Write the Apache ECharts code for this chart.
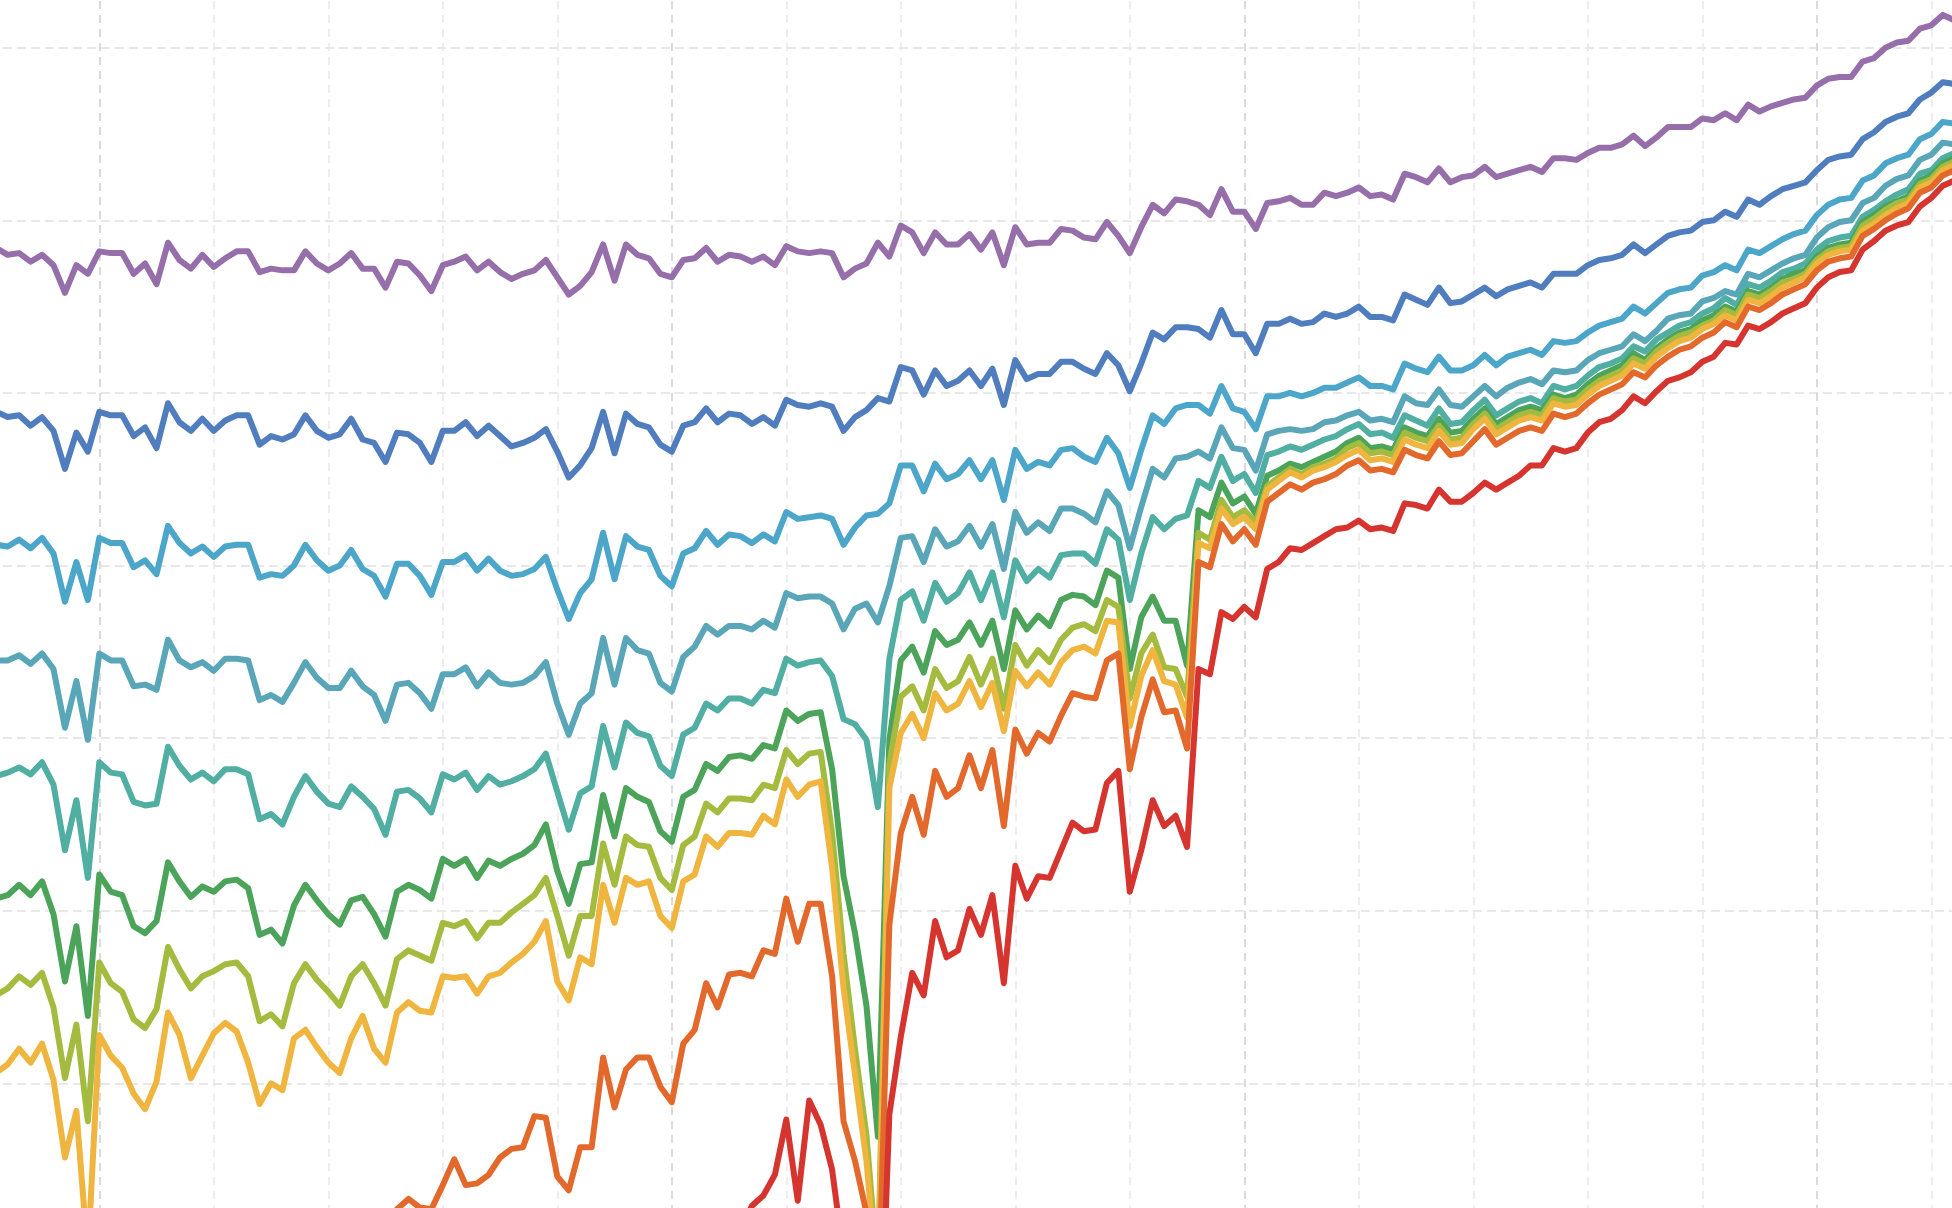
<!DOCTYPE html>
<html><head><meta charset="utf-8">
<script src="https://cdn.jsdelivr.net/npm/echarts@6/dist/echarts.min.js"></script>
<style>html,body{margin:0;padding:0;background:#fff;overflow:hidden}#c{width:1952px;height:1208px}</style>
</head><body><div id="c"></div><script>
// x value of the first observation (observations are consecutive)
const xStart = -9;

const sPurple = [
4.84,4.80,4.81,4.76,4.80,4.74,4.58,4.74,4.69,4.82,
4.81,4.81,4.69,4.75,4.63,4.87,4.77,4.72,4.80,4.73,
4.78,4.82,4.82,4.70,4.72,4.71,4.71,4.82,4.75,4.71,
4.75,4.81,4.72,4.72,4.61,4.76,4.75,4.68,4.59,4.74,
4.76,4.79,4.71,4.76,4.70,4.66,4.69,4.71,4.77,4.67,
4.57,4.62,4.70,4.86,4.65,4.86,4.80,4.78,4.69,4.67,
4.77,4.78,4.84,4.76,4.80,4.79,4.76,4.79,4.74,4.85,
4.82,4.81,4.82,4.81,4.67,4.72,4.75,4.87,4.79,4.97,
4.93,4.81,4.93,4.86,4.86,4.92,4.83,4.93,4.74,4.96,
4.86,4.87,4.87,4.95,4.94,4.90,4.89,4.99,4.91,4.81,
4.96,5.09,5.04,5.12,5.11,5.09,5.03,5.18,5.05,5.05,
4.95,5.10,5.11,5.13,5.09,5.09,5.16,5.14,5.16,5.19,
5.14,5.15,5.12,5.27,5.25,5.22,5.30,5.22,5.25,5.26,
5.31,5.25,5.27,5.29,5.31,5.28,5.36,5.36,5.35,5.39,
5.42,5.42,5.44,5.49,5.43,5.48,5.54,5.54,5.54,5.59,
5.58,5.62,5.58,5.67,5.63,5.66,5.68,5.70,5.71,5.78,
5.82,5.83,5.83,5.92,5.94,6.00,6.03,6.04,6.11,6.13,
6.19,6.16];

const sDarkBlue = [
3.89,3.86,3.87,3.81,3.86,3.78,3.56,3.77,3.66,3.89,
3.87,3.87,3.75,3.80,3.68,3.94,3.83,3.78,3.85,3.78,
3.84,3.87,3.87,3.70,3.75,3.73,3.76,3.87,3.78,3.74,
3.76,3.85,3.73,3.71,3.60,3.77,3.76,3.71,3.60,3.78,
3.78,3.83,3.75,3.81,3.75,3.69,3.71,3.74,3.79,3.66,
3.51,3.58,3.68,3.89,3.65,3.88,3.82,3.80,3.70,3.66,
3.81,3.83,3.91,3.83,3.88,3.87,3.82,3.86,3.81,3.96,
3.93,3.92,3.94,3.92,3.78,3.86,3.90,3.97,3.95,4.15,
4.13,3.99,4.13,4.04,4.07,4.13,4.04,4.14,3.93,4.19,
4.08,4.11,4.11,4.18,4.18,4.14,4.11,4.23,4.16,4.01,
4.17,4.35,4.31,4.38,4.38,4.37,4.32,4.48,4.34,4.34,
4.23,4.40,4.40,4.43,4.40,4.41,4.46,4.44,4.46,4.50,
4.44,4.44,4.42,4.57,4.54,4.51,4.61,4.52,4.53,4.57,
4.61,4.56,4.60,4.62,4.64,4.61,4.69,4.69,4.69,4.74,
4.77,4.78,4.80,4.86,4.81,4.86,4.91,4.93,4.94,4.99,
5.00,5.05,5.02,5.12,5.09,5.14,5.18,5.20,5.22,5.29,
5.35,5.37,5.38,5.47,5.51,5.57,5.60,5.62,5.70,5.74,
5.80,5.79];

const sLightBlue = [
3.12,3.11,3.15,3.10,3.16,3.07,2.79,3.02,2.80,3.16,
3.13,3.13,2.99,3.03,2.95,3.23,3.13,3.07,3.11,3.05,
3.11,3.12,3.12,2.93,2.95,2.94,3.00,3.12,3.03,2.97,
3.00,3.09,2.98,2.94,2.82,3.01,3.01,2.94,2.83,3.02,
3.02,3.06,2.97,3.04,2.97,2.94,2.95,2.98,3.05,2.86,
2.69,2.84,2.92,3.19,2.92,3.17,3.11,3.09,2.94,2.88,
3.07,3.10,3.20,3.12,3.18,3.17,3.13,3.18,3.14,3.31,
3.27,3.28,3.29,3.27,3.12,3.22,3.29,3.30,3.36,3.58,
3.58,3.43,3.59,3.50,3.53,3.61,3.50,3.61,3.38,3.67,
3.56,3.60,3.58,3.67,3.68,3.63,3.60,3.74,3.65,3.45,
3.67,3.87,3.82,3.91,3.93,3.93,3.88,4.04,3.91,3.89,
3.79,3.98,3.98,4.00,3.98,4.00,4.03,4.03,4.06,4.09,
4.04,4.04,4.02,4.17,4.14,4.12,4.21,4.13,4.13,4.16,
4.22,4.16,4.21,4.23,4.25,4.22,4.30,4.29,4.30,4.35,
4.39,4.41,4.43,4.50,4.46,4.52,4.58,4.60,4.61,4.68,
4.70,4.74,4.71,4.83,4.81,4.85,4.89,4.92,4.94,5.03,
5.09,5.12,5.13,5.23,5.26,5.33,5.36,5.38,5.47,5.50,
5.57,5.56];

const sSteelTeal = [
2.45,2.45,2.48,2.43,2.49,2.40,2.06,2.33,1.99,2.49,
2.45,2.45,2.30,2.31,2.28,2.57,2.45,2.41,2.44,2.39,
2.46,2.46,2.45,2.22,2.25,2.21,2.32,2.44,2.35,2.29,
2.29,2.39,2.30,2.25,2.10,2.31,2.32,2.26,2.17,2.37,
2.37,2.41,2.30,2.38,2.32,2.31,2.32,2.36,2.44,2.20,
2.02,2.20,2.26,2.58,2.31,2.58,2.51,2.49,2.32,2.27,
2.47,2.53,2.65,2.60,2.65,2.65,2.63,2.68,2.64,2.84,
2.81,2.82,2.82,2.78,2.63,2.75,2.78,2.67,2.88,3.16,
3.17,3.02,3.21,3.11,3.14,3.23,3.11,3.24,2.98,3.31,
3.19,3.25,3.20,3.33,3.33,3.30,3.25,3.43,3.35,3.10,
3.34,3.56,3.51,3.62,3.63,3.66,3.62,3.80,3.68,3.67,
3.55,3.76,3.78,3.79,3.78,3.79,3.83,3.84,3.87,3.89,
3.84,3.85,3.83,3.98,3.94,3.93,4.02,3.93,3.92,3.98,
4.04,3.98,4.03,4.06,4.08,4.05,4.13,4.12,4.13,4.19,
4.23,4.25,4.27,4.34,4.30,4.36,4.43,4.45,4.46,4.53,
4.55,4.59,4.57,4.69,4.67,4.71,4.75,4.78,4.80,4.90,
4.96,4.99,5.00,5.10,5.13,5.20,5.24,5.26,5.35,5.38,
5.45,5.44];

const sTeal = [
1.78,1.80,1.83,1.79,1.86,1.73,1.35,1.64,1.19,1.86,
1.80,1.79,1.63,1.61,1.62,1.95,1.84,1.76,1.80,1.75,
1.82,1.82,1.79,1.53,1.56,1.50,1.66,1.78,1.69,1.62,
1.60,1.72,1.66,1.59,1.44,1.69,1.70,1.65,1.57,1.79,
1.76,1.80,1.70,1.78,1.73,1.75,1.78,1.82,1.91,1.69,
1.47,1.68,1.72,2.07,1.83,2.09,2.03,2.01,1.84,1.78,
2.02,2.06,2.20,2.16,2.23,2.23,2.20,2.28,2.26,2.46,
2.42,2.44,2.45,2.36,2.11,2.08,1.99,1.60,2.46,2.80,
2.85,2.68,2.90,2.79,2.84,2.96,2.80,2.96,2.70,3.03,
2.91,2.98,2.93,3.06,3.07,3.07,3.01,3.21,3.15,2.80,
3.07,3.28,3.21,3.27,3.29,3.49,3.45,3.63,3.49,3.53,
3.42,3.64,3.66,3.69,3.67,3.70,3.73,3.75,3.79,3.82,
3.76,3.77,3.74,3.87,3.84,3.81,3.91,3.82,3.83,3.90,
3.96,3.87,3.91,3.95,3.97,3.94,4.04,4.02,4.04,4.10,
4.15,4.17,4.20,4.27,4.24,4.31,4.35,4.39,4.41,4.46,
4.49,4.55,4.51,4.63,4.61,4.65,4.70,4.72,4.75,4.83,
4.88,4.90,4.91,5.02,5.06,5.11,5.15,5.18,5.27,5.29,
5.36,5.39];

const sGreen = [
1.07,1.09,1.15,1.09,1.17,0.98,0.59,0.91,0.39,1.21,
1.11,1.09,0.91,0.87,0.94,1.28,1.17,1.08,1.14,1.11,
1.17,1.18,1.13,0.86,0.89,0.81,1.03,1.15,1.06,0.98,
0.92,1.06,1.08,0.98,0.85,1.11,1.15,1.12,1.07,1.30,
1.26,1.30,1.19,1.29,1.26,1.30,1.33,1.38,1.50,1.23,
1.04,1.27,1.28,1.67,1.43,1.71,1.66,1.63,1.46,1.40,
1.66,1.70,1.85,1.81,1.89,1.90,1.88,1.96,1.94,2.16,
2.10,2.14,2.15,1.82,1.20,0.87,0.45,-0.31,1.99,2.45,
2.53,2.38,2.62,2.54,2.57,2.67,2.54,2.68,2.40,2.74,
2.63,2.71,2.65,2.80,2.83,2.82,2.77,2.97,2.93,2.40,
2.70,2.82,2.68,2.68,2.42,3.32,3.28,3.48,3.36,3.40,
3.30,3.52,3.55,3.59,3.57,3.60,3.63,3.66,3.71,3.74,
3.68,3.69,3.67,3.80,3.77,3.75,3.85,3.77,3.78,3.85,
3.91,3.82,3.86,3.90,3.92,3.90,3.99,3.97,3.99,4.05,
4.10,4.13,4.16,4.23,4.19,4.26,4.31,4.35,4.37,4.42,
4.45,4.50,4.47,4.59,4.57,4.61,4.66,4.69,4.71,4.79,
4.84,4.86,4.87,4.99,5.03,5.08,5.11,5.14,5.23,5.26,
5.33,5.36];

const sLime = [
0.51,0.55,0.62,0.57,0.64,0.44,0.03,0.34,-0.22,0.70,
0.58,0.53,0.37,0.32,0.43,0.79,0.66,0.55,0.62,0.65,
0.69,0.70,0.62,0.36,0.40,0.33,0.58,0.69,0.60,0.53,
0.45,0.62,0.69,0.58,0.45,0.72,0.77,0.74,0.71,0.93,
0.91,0.94,0.84,0.93,0.93,0.99,1.04,1.09,1.19,0.97,
0.74,0.97,0.97,1.39,1.15,1.43,1.38,1.37,1.19,1.12,
1.38,1.43,1.62,1.57,1.65,1.65,1.64,1.73,1.71,1.93,
1.85,1.91,1.92,1.45,0.75,0.20,-0.30,-1.10,1.85,2.24,
2.30,2.16,2.40,2.29,2.33,2.47,2.31,2.46,2.17,2.54,
2.42,2.51,2.44,2.57,2.64,2.66,2.62,2.80,2.76,2.23,
2.49,2.60,2.41,2.40,2.24,3.19,3.15,3.38,3.28,3.32,
3.25,3.46,3.51,3.56,3.53,3.57,3.59,3.62,3.68,3.71,
3.65,3.66,3.64,3.77,3.74,3.72,3.81,3.73,3.74,3.82,
3.88,3.79,3.83,3.87,3.89,3.87,3.97,3.95,3.96,4.02,
4.07,4.10,4.13,4.20,4.17,4.24,4.29,4.33,4.35,4.39,
4.42,4.48,4.45,4.57,4.55,4.59,4.64,4.66,4.69,4.77,
4.82,4.84,4.85,4.97,5.01,5.06,5.10,5.12,5.21,5.24,
5.31,5.34];

const sYellow = [
0.06,0.11,0.20,0.12,0.23,0.02,-0.43,-0.16,-1.00,0.28,
0.16,0.09,-0.06,-0.15,0.01,0.41,0.28,0.03,0.16,0.29,
0.35,0.30,0.12,-0.12,0.00,-0.04,0.26,0.31,0.21,0.12,
0.06,0.26,0.39,0.20,0.12,0.41,0.47,0.42,0.41,0.62,
0.61,0.62,0.52,0.62,0.64,0.70,0.75,0.82,0.94,0.59,
0.48,0.73,0.69,1.15,0.93,1.19,1.15,1.17,0.97,0.90,
1.17,1.21,1.43,1.37,1.45,1.45,1.44,1.55,1.50,1.76,
1.66,1.73,1.75,1.25,0.55,0.05,-0.45,-1.20,1.71,2.03,
2.14,2.00,2.26,2.16,2.20,2.33,2.18,2.32,2.04,2.39,
2.30,2.38,2.31,2.44,2.51,2.53,2.49,2.68,2.67,2.07,
2.36,2.51,2.33,2.31,2.12,3.13,3.10,3.33,3.24,3.28,
3.21,3.44,3.49,3.54,3.51,3.55,3.57,3.60,3.64,3.67,
3.61,3.62,3.60,3.73,3.70,3.68,3.78,3.70,3.71,3.79,
3.85,3.76,3.80,3.84,3.86,3.84,3.94,3.92,3.93,3.99,
4.04,4.07,4.10,4.17,4.14,4.21,4.26,4.30,4.32,4.37,
4.40,4.45,4.42,4.54,4.52,4.56,4.61,4.64,4.67,4.75,
4.80,4.82,4.83,4.94,4.98,5.03,5.07,5.10,5.19,5.22,
5.29,5.32];

const sOrange = [
-1.30,-1.25,-1.20,-1.25,-1.18,-1.35,-1.80,-1.50,-2.00,-1.10,
-1.20,-1.25,-1.40,-1.45,-1.35,-1.00,-1.10,-1.30,-1.20,-1.10,
-1.05,-1.10,-1.25,-1.50,-1.35,-1.40,-1.10,-1.05,-1.15,-1.25,
-1.30,-1.10,-0.98,-1.15,-1.20,-0.73,-0.67,-0.72,-0.73,-0.59,
-0.44,-0.59,-0.58,-0.53,-0.43,-0.38,-0.37,-0.19,-0.20,-0.54,
-0.62,-0.37,-0.37,0.15,-0.14,0.08,0.15,0.15,-0.02,-0.11,
0.23,0.31,0.58,0.44,0.63,0.64,0.62,0.77,0.75,1.07,
0.82,1.04,1.04,0.62,-0.22,-0.45,-0.75,-1.40,0.92,1.45,
1.66,1.44,1.81,1.66,1.71,1.90,1.71,1.93,1.49,2.05,
1.91,2.03,1.98,2.13,2.26,2.24,2.23,2.45,2.49,1.82,
2.12,2.34,2.15,2.16,1.94,3.02,2.99,3.24,3.14,3.21,
3.12,3.37,3.42,3.47,3.44,3.48,3.50,3.53,3.58,3.61,
3.55,3.56,3.54,3.67,3.64,3.62,3.72,3.64,3.65,3.72,
3.79,3.70,3.74,3.78,3.80,3.78,3.88,3.86,3.88,3.94,
3.99,4.02,4.05,4.12,4.09,4.16,4.21,4.25,4.27,4.32,
4.35,4.41,4.38,4.50,4.48,4.52,4.57,4.60,4.63,4.71,
4.76,4.78,4.79,4.91,4.95,5.00,5.04,5.07,5.16,5.19,
5.26,5.29];

const sRed = [
-1.70,-1.65,-1.60,-1.65,-1.58,-1.75,-2.20,-1.90,-2.40,-1.50,
-1.60,-1.65,-1.80,-1.85,-1.75,-1.40,-1.50,-1.70,-1.60,-1.50,
-1.45,-1.50,-1.65,-1.90,-1.75,-1.80,-1.50,-1.45,-1.55,-1.65,
-1.70,-1.50,-1.38,-1.55,-1.60,-1.30,-1.25,-1.30,-1.30,-1.15,
-1.05,-1.15,-1.15,-1.10,-1.05,-1.00,-1.00,-0.85,-0.87,-1.15,
-1.25,-1.00,-1.00,-0.90,-1.05,-0.90,-0.90,-0.90,-1.00,-1.10,
-0.95,-0.90,-0.85,-0.95,-0.85,-0.85,-0.71,-0.65,-0.53,-0.21,
-0.68,-0.10,-0.24,-0.50,-1.00,-1.40,-1.80,-2.00,-0.18,0.27,
0.64,0.51,0.94,0.73,0.77,1.01,0.86,1.09,0.58,1.26,
1.07,1.20,1.19,1.35,1.51,1.46,1.47,1.74,1.81,1.11,
1.35,1.64,1.49,1.55,1.37,2.40,2.37,2.73,2.69,2.76,
2.70,2.98,3.02,3.10,3.09,3.13,3.17,3.21,3.22,3.26,
3.21,3.22,3.20,3.36,3.35,3.33,3.44,3.37,3.37,3.42,
3.48,3.44,3.48,3.52,3.58,3.58,3.68,3.66,3.68,3.77,
3.83,3.85,3.90,3.98,3.94,4.01,4.07,4.09,4.12,4.18,
4.21,4.29,4.28,4.39,4.37,4.41,4.46,4.49,4.52,4.61,
4.67,4.70,4.71,4.83,4.88,4.94,4.97,4.99,5.08,5.13,
5.20,5.23];

const seriesNames = ['S1','S2','S3','S4','S5','S6','S7','S8','S9','S10'];
const seriesValues = [sPurple,sDarkBlue,sLightBlue,sSteelTeal,sTeal,sGreen,sLime,sYellow,sOrange,sRed];
const seriesColors = ['#966eaa','#507dbe','#4ba6c9','#58a6b7','#50aea2','#4ca45b','#a5bb40','#f0b53e','#e2692b','#d5352e'];

const chart = echarts.init(document.getElementById('c'), null, {renderer: 'canvas'});
chart.setOption({
  animation: false,
  backgroundColor: '#ffffff',
  grid: {left: -473.2, right: -437.3, top: -124.9, bottom: -47.9, containLabel: false, outerBoundsMode: 'none'},
  xAxis: {
    type: 'value', min: -50, max: 200, interval: 50,
    axisLine: {show: false}, axisTick: {show: false}, axisLabel: {show: false},
    splitLine: {show: true, lineStyle: {color: '#d0d0d0', width: 1.5, type: [8, 6]}},
    minorTick: {show: false, splitNumber: 5},
    minorSplitLine: {show: true, lineStyle: {color: '#e9e9e9', width: 1.5, type: [8, 6]}}
  },
  yAxis: {
    type: 'value', min: -1, max: 7, interval: 1,
    axisLine: {show: false}, axisTick: {show: false}, axisLabel: {show: false},
    splitLine: {show: true, lineStyle: {color: '#e8e8e8', width: 2, type: [9, 5]}}
  },
  series: seriesValues.map((vals, k) => ({
    name: seriesNames[k],
    type: 'line',
    symbol: 'none',
    smooth: false,
    clip: true,
    color: seriesColors[k],
    lineStyle: {width: 6, color: seriesColors[k], cap: 'round', join: 'round'},
    emphasis: {disabled: true},
    data: vals.map((v, i) => [xStart + i, v])
  }))
});
</script></body></html>
